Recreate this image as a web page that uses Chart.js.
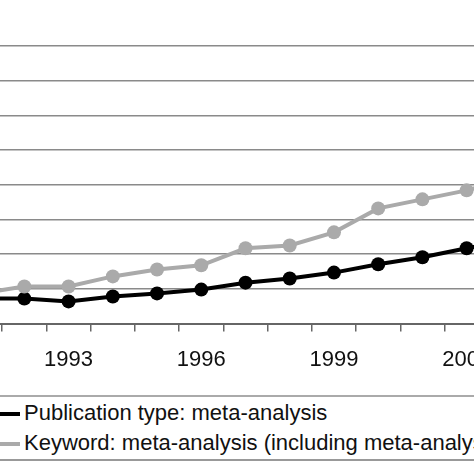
<!DOCTYPE html>
<html><head><meta charset="utf-8">
<script src="https://cdn.jsdelivr.net/npm/chart.js@4"></script>
<style>
body{margin:0;width:474px;height:474px;overflow:hidden;background:#fff;position:relative;font-family:"Liberation Sans",Arial,sans-serif}
#wrap{position:absolute;left:-49px;top:0;width:589px;height:388px}
#leg{position:absolute;left:-10px;top:395px;width:600px;height:62px;border-top:2px solid #aaa;border-bottom:2px solid #999}
.row{position:absolute;left:34px;font-size:22px;color:#111;white-space:nowrap}
.mk{position:absolute;left:0;width:30px;height:4px}
</style></head><body>
<div id="wrap"><canvas id="c"></canvas></div>
<div id="leg">
<div class="mk" style="top:15px;background:#000"></div><div class="row" id="l1" style="top:3px"></div>
<div class="mk" style="top:45px;background:#aaa"></div><div class="row" id="l2" style="top:33px"></div>
</div>
<script>
const years=["1991","1992","1993","1994","1995","1996","1997","1998","1999","2000","2001","2002","2003"];
const pubType=[0.72,0.72,0.64,0.78,0.87,0.98,1.18,1.30,1.47,1.71,1.91,2.17,2.4];
const keyword=[0.87,1.07,1.07,1.36,1.56,1.68,2.17,2.25,2.63,3.32,3.58,3.84,4.2];
const names=["Publication type: meta-analysis","Keyword: meta-analysis (including meta-analyses)"];
document.getElementById('l1').textContent=names[0];
document.getElementById('l2').textContent=names[1];
new Chart(document.getElementById('c'),{type:'line',
data:{labels:years,datasets:[
{label:names[1],data:keyword,borderColor:'#aaa',backgroundColor:'#aaa',borderWidth:4,pointRadius:7,pointBorderWidth:0},
{label:names[0],data:pubType,borderColor:'#000',backgroundColor:'#000',borderWidth:4,pointRadius:7,pointBorderWidth:0}]},
options:{responsive:true,maintainAspectRatio:false,animation:false,
layout:{padding:{top:46,left:0,right:0,bottom:0}},
plugins:{legend:{display:false},tooltip:{enabled:false}},
scales:{
y:{min:0,max:8,display:true,ticks:{display:false,stepSize:1},border:{display:false},grid:{color:'#8a8a8a',lineWidth:1.5,drawTicks:false}},
x:{offset:true,border:{color:'#666',width:2},grid:{offset:true,drawOnChartArea:false,tickLength:8,color:'#666',lineWidth:1.5},
ticks:{autoSkip:false,maxRotation:0,padding:15,color:'#111',font:{size:22,family:'"Liberation Sans",Arial'},
callback:function(v){const y=years[v];return ((+y)-1993)%3===0?y:'';}}}}}});
</script></body></html>
